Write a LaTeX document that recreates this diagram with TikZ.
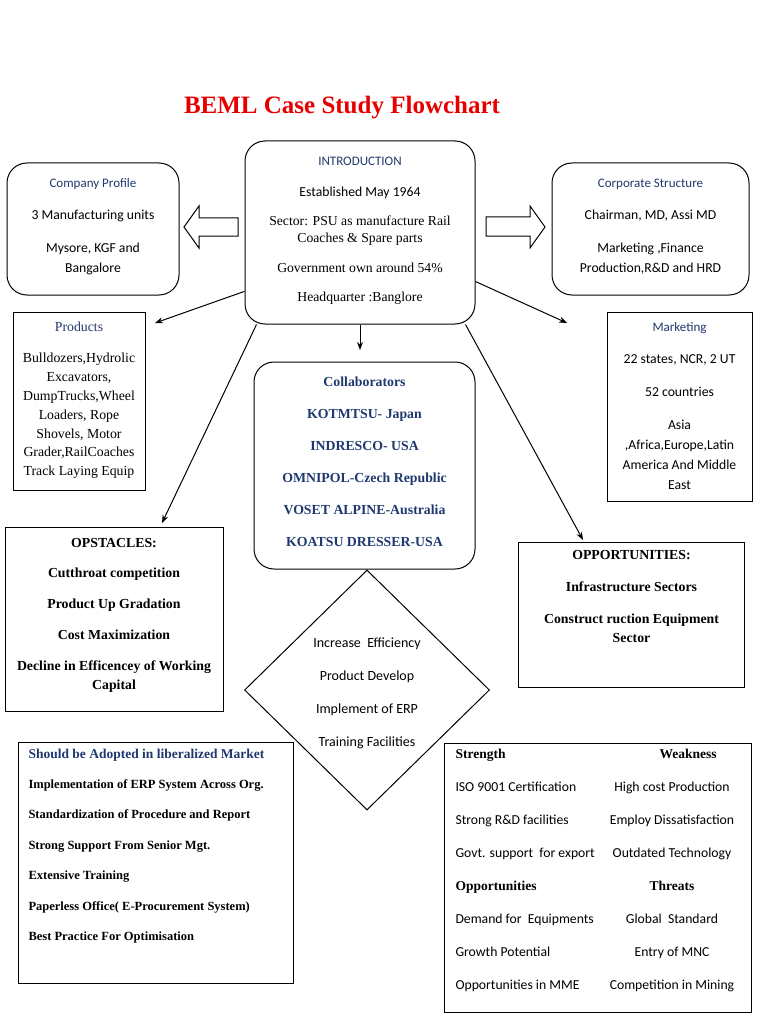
\documentclass[tikz,border=0pt]{standalone}
\usepackage{fontspec}
\setmainfont{Liberation Serif}
\newfontfamily\calib{Carlito}
\usetikzlibrary{arrows.meta,shapes.geometric}
\definecolor{navy}{RGB}{31,56,110}
\definecolor{titlered}{RGB}{230,0,0}

\begin{document}
\begin{tikzpicture}[x=1pt,y=-1pt,line width=1pt,>={Stealth[length=8pt,width=6pt]}]
\tikzset{
  rbox/.style={draw,rounded corners=20pt,inner sep=0pt},
  sbox/.style={draw,inner sep=0pt},
  txt/.style={align=center,inner sep=0pt},
  seriftxt/.style={txt,font=\fontsize{13.7}{17}\selectfont},
  calibtxt/.style={txt,font=\calib\fontsize{13.7}{20}\selectfont},
}
\useasboundingbox (0,0) rectangle (768,1024);
% title
\node[txt,font=\fontsize{25}{30}\selectfont\bfseries,text=titlered] (title) at (342,108) {BEML Case Study Flowchart};
% introduction
\node[rbox,minimum width=230pt,minimum height=183pt] (intro) at (360,232.5) {};
\node[seriftxt] (introtxt) at (360,231) {{\calib\color{navy}\fontsize{13}{17}\selectfont INTRODUCTION}\\[14pt]
  {\calib Established May 1964}\\[12pt]
  Sector: PSU as manufacture Rail\\ Coaches \& Spare parts\\[13pt]
  Government own around 54\%\\[12pt]
  Headquarter :Banglore};
% company profile and corporate structure
\node[rbox,minimum width=172pt,minimum height=132pt] (profile) at (93,229) {};
\node[calibtxt] (profiletxt) at (93,227) {{\color{navy}\fontsize{13}{20}\selectfont Company Profile}\\[12pt]
  3 Manufacturing units\\[13pt] Mysore, KGF and\\ Bangalore};
\node[rbox,minimum width=197pt,minimum height=132pt] (corp) at (650.5,229) {};
\node[calibtxt] (corptxt) at (650.5,227) {{\color{navy}\fontsize{13}{20}\selectfont Corporate Structure}\\[12pt]
  Chairman, MD, Assi MD\\[13pt] Marketing ,Finance\\ Production,R\&D and HRD};
% hollow arrows
\draw (238,218) -- (199,218) -- (199,206) -- (184,227) -- (199,248) -- (199,236) -- (238,236) -- cycle;
\draw (486,217) -- (530,217) -- (530,206) -- (545,227) -- (530,248) -- (530,236) -- (486,236) -- cycle;
% products and marketing
\node[sbox,minimum width=132pt,minimum height=178pt] (products) at (79,401.5) {};
\node[seriftxt,font=\fontsize{13.8}{18.8}\selectfont] (productstxt) at (79,400) {{\color{navy}Products}\\[13pt]
  Bulldozers,Hydrolic\\ Excavators,\\ DumpTrucks,Wheel\\ Loaders, Rope\\ Shovels, Motor\\ Grader,RailCoaches\\ Track Laying Equip};
\node[sbox,minimum width=145pt,minimum height=189pt] (market) at (679.5,407) {};
\node[calibtxt] (markettxt) at (679.5,406) {{\color{navy}\fontsize{13}{20}\selectfont Marketing}\\[12pt]
  22 states, NCR, 2 UT\\[13pt] 52 countries\\[13pt] Asia\\ ,Africa,Europe,Latin\\ America And Middle\\ East};
% collaborators
\node[rbox,minimum width=221pt,minimum height=207pt] (collab) at (364.5,465.5) {};
\node[txt,font=\fontsize{13.8}{32}\selectfont\bfseries,text=navy] (collabtxt) at (364.5,462) {Collaborators\\
  KOTMTSU- Japan\\ INDRESCO- USA\\ OMNIPOL-Czech Republic\\ VOSET ALPINE-Australia\\ KOATSU DRESSER-USA};
% obstacles and opportunities
\node[sbox,minimum width=218pt,minimum height=184pt] (obst) at (114,619) {};
\node[txt,font=\fontsize{13.8}{19}\selectfont\bfseries] (obsttxt) at (114,615) {OPSTACLES:\\[11pt]
  Cutthroat competition\\[12pt] Product Up Gradation\\[12pt] Cost Maximization\\[12pt]
  Decline in Efficencey of Working\\ Capital};
\node[sbox,minimum width=226pt,minimum height=145pt] (oppo) at (631.5,614.5) {};
\node[txt,font=\fontsize{13.8}{19}\selectfont\bfseries] (oppotxt) at (631.5,596) {OPPORTUNITIES:\\[13pt]
  Infrastructure Sectors\\[13pt] Construct ruction Equipment\\ Sector};
% diamond
\node[draw,diamond,minimum width=245pt,minimum height=240pt,inner sep=0pt,
  txt,font=\calib\fontsize{14}{33}\selectfont] (improve) at (367,690) {};
\node[txt,font=\calib\fontsize{14}{33}\selectfont] (improvetxt) at (367,693) {Increase\ \ Efficiency\\
  Product Develop\\ Implement of ERP\\ Training Facilities};
% adopted in liberalized market
\node[sbox,minimum width=275pt,minimum height=241pt] (adopt) at (155.5,862.5) {};
\node[txt,align=left,anchor=west,font=\fontsize{12.5}{30.4}\selectfont\bfseries] (adopttxt) at (28,846) {{\color{navy}\fontsize{13.5}{30.4}\selectfont Should be Adopted in liberalized Market}\\
  Implementation of ERP System Across Org.\\ Standardization of Procedure and Report\\
  Strong Support From Senior Mgt.\\ Extensive Training\\
  Paperless Office( E-Procurement System)\\ Best Practice For Optimisation};
% swot
\node[sbox,minimum width=307pt,minimum height=269pt] (swot) at (597.5,877.5) {};
\node[txt,align=left,anchor=west,font=\calib\fontsize{13.7}{33}\selectfont] (swotleft) at (455,870) {{\rmfamily\bfseries\fontsize{13.5}{33}\selectfont Strength}\\
  ISO 9001 Certification\\ Strong R\&D facilities\\ Govt. support\ \ for export\\
  {\rmfamily\bfseries\fontsize{13.5}{33}\selectfont Opportunities}\\
  Demand for\ \ Equipments\\ Growth Potential\\ Opportunities in MME};
\node[txt,font=\calib\fontsize{13.7}{33}\selectfont] (swotright) at (672,870) {\hspace*{32pt}{\rmfamily\bfseries\fontsize{13.5}{33}\selectfont Weakness}\\
  High cost Production\\ Employ Dissatisfaction\\ Outdated Technology\\
  {\rmfamily\bfseries\fontsize{13.5}{33}\selectfont Threats}\\
  Global\ \ Standard\\ Entry of MNC\\ Competition in Mining};
% connectors from introduction
\coordinate (prodtip) at (155,323);
\coordinate (markettip) at (567,323);
\coordinate (collabtip) at (360,350);
\coordinate (obsttip) at (162,523);
\coordinate (oppotip) at (583,540);
\draw[->] (intro.207.75) -- (prodtip);
\draw[->] (intro.-23) -- (markettip);
\draw[->] (intro.south) -- (collabtip);
\draw[->] ([xshift=12pt]intro.south west) -- (obsttip);
\draw[->] ([xshift=-10pt]intro.south east) -- (oppotip);
\end{tikzpicture}
\end{document}
